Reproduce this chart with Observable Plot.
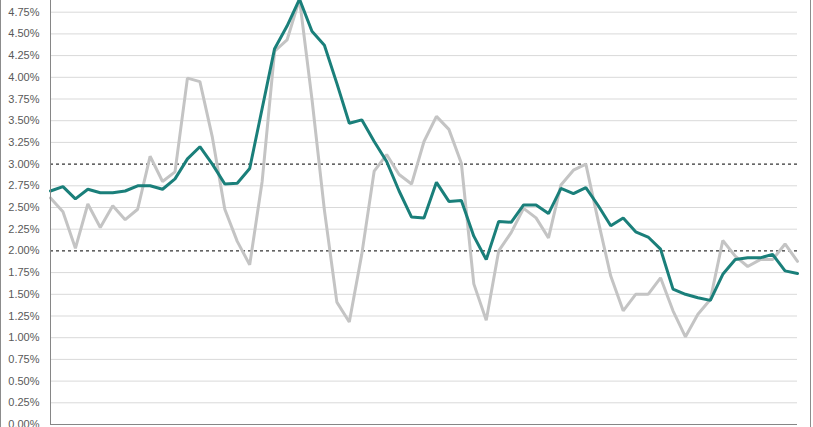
<!DOCTYPE html>
<html>
<head>
<meta charset="utf-8">
<script src="https://cdn.jsdelivr.net/npm/d3@7"></script>
<script src="https://cdn.jsdelivr.net/npm/@observablehq/plot@0.6"></script>
<style>
  html, body { margin: 0; padding: 0; background: #fff; overflow: hidden; }
  #chart { position: relative; width: 813px; height: 427px; }
  #chart svg { display: block; }
  .frame { position: absolute; left: 0; top: -5px; width: 811px; height: 445px; box-sizing: border-box;
           border: 1px solid #8c8c8c; pointer-events: none; }
</style>
</head>
<body>
<div id="chart"><div class="frame"></div></div>
<script>
// Period index (61 consecutive periods, no labels shown in the reference)
const periods = d3.range(61);

// Teal series (percent)
const tealValues = [
  2.69, 2.74, 2.60, 2.71, 2.67, 2.67, 2.69, 2.75, 2.75, 2.71,
  2.83, 3.06, 3.20, 3.00, 2.77, 2.78, 2.95, 3.64, 4.33, 4.59,
  4.90, 4.53, 4.37, 3.93, 3.47, 3.51, 3.26, 3.03, 2.69, 2.39,
  2.38, 2.79, 2.57, 2.58, 2.17, 1.90, 2.34, 2.33, 2.53, 2.53,
  2.43, 2.72, 2.66, 2.73, 2.52, 2.29, 2.38, 2.22, 2.16, 2.02,
  1.56, 1.50, 1.46, 1.43, 1.73, 1.90, 1.92, 1.92, 1.96, 1.77,
  1.74
];

// Gray series (percent)
const grayValues = [
  2.61, 2.45, 2.03, 2.54, 2.27, 2.52, 2.36, 2.48, 3.09, 2.80,
  2.91, 3.99, 3.95, 3.31, 2.48, 2.11, 1.84, 2.80, 4.30, 4.43,
  4.90, 3.75, 2.47, 1.41, 1.18, 1.96, 2.92, 3.11, 2.88, 2.77,
  3.26, 3.55, 3.40, 3.01, 1.62, 1.20, 2.00, 2.21, 2.49, 2.38,
  2.15, 2.76, 2.93, 3.00, 2.34, 1.71, 1.31, 1.50, 1.50, 1.69,
  1.31, 1.01, 1.27, 1.44, 2.12, 1.94, 1.82, 1.90, 1.90, 2.08,
  1.88
];

// Y tick values and reference (dashed) levels
const yTicks = d3.range(0, 4.76, 0.25);
const refLevels = [2, 3];

const teal = periods.map((p, i) => ({p, v: tealValues[i]}));
const gray = periods.map((p, i) => ({p, v: grayValues[i]}));

const chart = Plot.plot({
  width: 813,
  height: 427,
  marginLeft: 50,
  marginRight: 16,
  marginTop: -10,
  marginBottom: 3,
  style: {fontFamily: "'Liberation Sans', Arial, sans-serif", fontSize: "11px", color: "#595959", background: "#fff", overflow: "visible"},
  x: {domain: [0, 60], axis: null},
  y: {domain: [0, 5], ticks: yTicks, tickFormat: d => d.toFixed(2) + "%", tickSize: 0, tickPadding: 11, label: null},
  marks: [
    Plot.gridY(yTicks.filter(t => t > 0 && !refLevels.includes(t)), {stroke: "#d9d9d9", strokeOpacity: 1, strokeWidth: 1}),
    Plot.ruleY(refLevels, {stroke: "#000", strokeWidth: 1, strokeDasharray: "3,3"}),
    Plot.line(gray, {x: "p", y: "v", stroke: "#c4c4c4", strokeWidth: 3, strokeLinejoin: "miter"}),
    Plot.line(teal, {x: "p", y: "v", stroke: "#1a7f7a", strokeWidth: 3, strokeLinejoin: "miter"}),
    Plot.ruleY([0], {stroke: "#868686", strokeWidth: 1}),
    Plot.ruleX([0], {stroke: "#868686", strokeWidth: 1}),
    Plot.axisY({ticks: yTicks, tickFormat: d => d.toFixed(2) + "%", tickSize: 0, tickPadding: 11, label: null, fill: "#595959"})
  ]
});
document.getElementById("chart").prepend(chart);
</script>
</body>
</html>
